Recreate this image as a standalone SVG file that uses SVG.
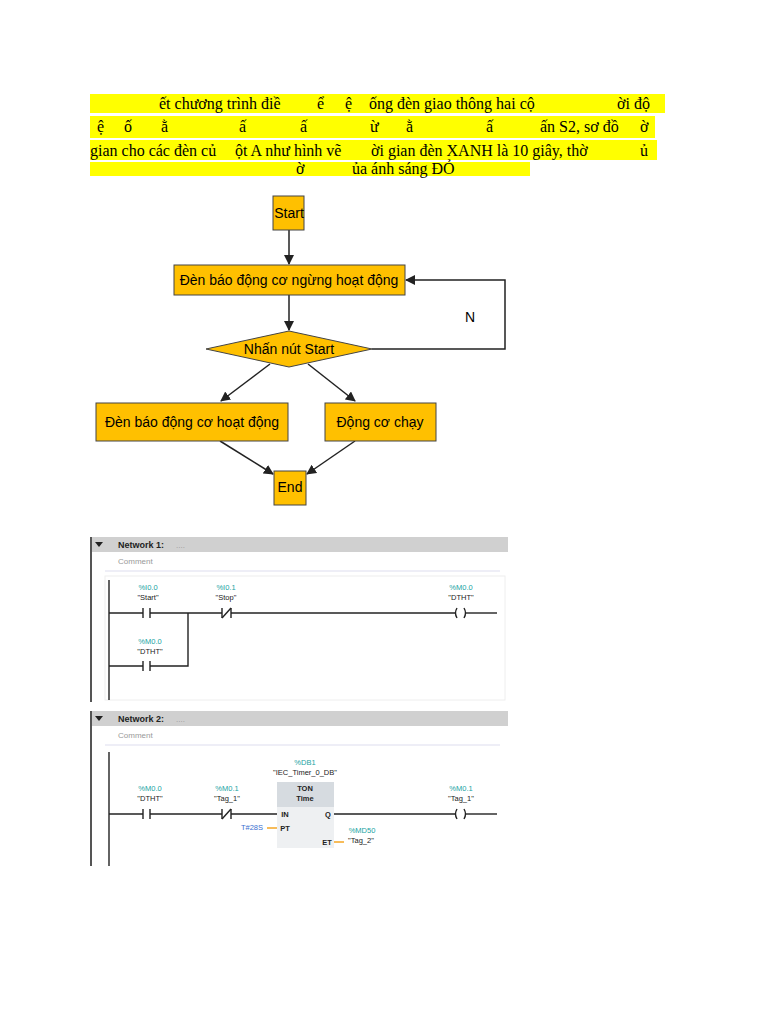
<svg xmlns="http://www.w3.org/2000/svg" width="768" height="1024" viewBox="0 0 768 1024">
<style>
.t{font-family:"Liberation Serif",serif;font-size:16px;fill:#000}
.f{font-family:"Liberation Sans",Arial,sans-serif;font-size:14px;fill:#000;text-anchor:middle}
.box{fill:#FFC000;stroke:#444;stroke-width:1}
.c{stroke:#222;stroke-width:1.5;fill:none}
.l{stroke:#222;stroke-width:1.4;fill:none}
.s{font-family:"Liberation Sans",Arial,sans-serif;font-size:7.5px;text-anchor:middle}
.tl{fill:#1aa3a3}
.bk{fill:#222}
.h{font-family:"Liberation Sans",Arial,sans-serif;font-size:9px;font-weight:bold;fill:#222}
.cm{font-family:"Liberation Sans",Arial,sans-serif;font-size:8px;fill:#999}
</style>
<defs><marker id="a" markerWidth="10" markerHeight="10" refX="9" refY="5" orient="auto" markerUnits="userSpaceOnUse"><path d="M0,0 L10,5 L0,10 z" fill="#222"/></marker></defs>
<rect width="768" height="1024" fill="#fff"/>
<g id="header">
<rect x="90" y="94" width="575" height="19" fill="#ffff00"/>
<rect x="90" y="116" width="565" height="22" fill="#ffff00"/>
<rect x="90" y="140" width="567" height="20" fill="#ffff00"/>
<rect x="90" y="162" width="440" height="14" fill="#ffff00"/>
<text class="t" x="159" y="109">ết chương trình điề</text>
<text class="t" x="317" y="109">ể</text><text class="t" x="345" y="109">ệ</text>
<text class="t" x="369" y="109">ống đèn giao thông hai cộ</text>
<text class="t" x="617" y="109">ời độ</text>
<text class="t" x="97" y="132">ệ</text><text class="t" x="124" y="132">ố</text><text class="t" x="161" y="132">ằ</text>
<text class="t" x="239" y="132">ấ</text><text class="t" x="300" y="132">ấ</text><text class="t" x="370" y="132">ừ</text>
<text class="t" x="406" y="132">ằ</text><text class="t" x="486" y="132">ấ</text>
<text class="t" x="540" y="132">ấn S2, sơ đồ</text><text class="t" x="640" y="132">ờ</text>
<text class="t" x="90" y="156">gian cho các đèn củ</text>
<text class="t" x="235" y="156">ột A như hình vẽ</text>
<text class="t" x="371" y="156">ời gian đèn XANH là 10 giây, thờ</text>
<text class="t" x="640" y="156">ủ</text>
<text class="t" x="296" y="174">ờ</text>
<text class="t" x="352" y="174">ủa ánh sáng ĐỎ</text>
</g>
<g id="connectors">
<line class="c" x1="289" y1="230" x2="289" y2="264" marker-end="url(#a)"/>
<line class="c" x1="289" y1="295" x2="289" y2="330" marker-end="url(#a)"/>
<polyline class="c" points="372,349 505,349 505,280 406,280" marker-end="url(#a)"/>
<line class="c" x1="270" y1="364" x2="221" y2="401" marker-end="url(#a)"/>
<line class="c" x1="308" y1="364" x2="355" y2="401" marker-end="url(#a)"/>
<line class="c" x1="220" y1="441" x2="273" y2="474" marker-end="url(#a)"/>
<line class="c" x1="355" y1="441" x2="307" y2="474" marker-end="url(#a)"/>
<text class="f" x="470" y="322">N</text>
</g>
<g id="start"><rect class="box" x="273" y="196" width="31" height="34"/><text class="f" x="289" y="218">Start</text></g>
<g id="stop-state"><rect class="box" x="174" y="265" width="231" height="30"/><text class="f" x="289" y="285">Đèn báo động cơ ngừng hoạt động</text></g>
<g id="decision"><polygon class="box" points="206,349 289,331 372,349 289,367"/><text class="f" x="289" y="354">Nhấn nút Start</text></g>
<g id="run-light"><rect class="box" x="96" y="403" width="192" height="38"/><text class="f" x="192" y="427">Đèn báo động cơ hoạt động</text></g>
<g id="motor"><rect class="box" x="325" y="403" width="111" height="38"/><text class="f" x="380" y="427">Động cơ chạy</text></g>
<g id="end"><rect class="box" x="274" y="471" width="32" height="34"/><text class="f" x="290" y="492">End</text></g>
<g id="network1">
<rect x="90" y="537" width="418" height="15" fill="#d0d0d0"/>
<rect x="90" y="537" width="2" height="165" fill="#555"/>
<polygon points="95,542 103,542 99,547" fill="#222"/>
<text class="h" x="118" y="548">Network 1:</text><text class="cm" x="176" y="548">....</text>
<text class="cm" x="118" y="564">Comment</text>
<line x1="105" y1="571" x2="500" y2="571" stroke="#dde" stroke-width="1"/>
<rect x="105" y="576" width="400" height="124" fill="none" stroke="#eee"/>
<line class="l" x1="109" y1="580" x2="109" y2="700"/>
<line class="l" x1="109" y1="613" x2="143" y2="613"/><line class="l" x1="143" y1="608" x2="143" y2="618"/><line class="l" x1="150" y1="608" x2="150" y2="618"/>
<line class="l" x1="150" y1="613" x2="222" y2="613"/><line class="l" x1="222" y1="608" x2="222" y2="618"/><line class="l" x1="231" y1="608" x2="231" y2="618"/><line class="l" x1="222" y1="618" x2="231" y2="608"/>
<line class="l" x1="231" y1="613" x2="455" y2="613"/><path class="l" d="M457,608 Q454,613 457,618 M464,608 Q467,613 464,618"/><line class="l" x1="466" y1="613" x2="497" y2="613"/>
<line class="l" x1="109" y1="666" x2="143" y2="666"/><line class="l" x1="143" y1="661" x2="143" y2="671"/><line class="l" x1="150" y1="661" x2="150" y2="671"/>
<polyline class="l" points="150,666 188,666 188,613"/>
<text class="s tl" x="148" y="590">%I0.0</text><text class="s bk" x="148" y="600">"Start"</text>
<text class="s tl" x="226" y="590">%I0.1</text><text class="s bk" x="226" y="600">"Stop"</text>
<text class="s tl" x="461" y="590">%M0.0</text><text class="s bk" x="461" y="600">"DTHT"</text>
<text class="s tl" x="150" y="644">%M0.0</text><text class="s bk" x="150" y="654">"DTHT"</text>
</g>
<g id="network2">
<rect x="90" y="711" width="418" height="15" fill="#d0d0d0"/>
<rect x="90" y="711" width="2" height="155" fill="#555"/>
<polygon points="95,716 103,716 99,721" fill="#222"/>
<text class="h" x="118" y="722">Network 2:</text><text class="cm" x="176" y="722">....</text>
<text class="cm" x="118" y="738">Comment</text>
<line x1="105" y1="745" x2="500" y2="745" stroke="#dde" stroke-width="1"/>
<line class="l" x1="109" y1="752" x2="109" y2="866"/>
<line class="l" x1="109" y1="814" x2="143" y2="814"/><line class="l" x1="143" y1="809" x2="143" y2="819"/><line class="l" x1="150" y1="809" x2="150" y2="819"/>
<line class="l" x1="150" y1="814" x2="222" y2="814"/><line class="l" x1="222" y1="809" x2="222" y2="819"/><line class="l" x1="231" y1="809" x2="231" y2="819"/><line class="l" x1="222" y1="819" x2="231" y2="809"/>
<line class="l" x1="231" y1="814" x2="277" y2="814"/>
<rect x="277" y="782" width="57" height="66" fill="#eef0f2"/><rect x="277" y="782" width="57" height="25" fill="#d6dbe0"/>
<text class="s bk" x="305" y="791" font-weight="bold">TON</text><text class="s bk" x="305" y="801" font-weight="bold">Time</text>
<text class="s bk" x="285" y="817" font-weight="bold">IN</text><text class="s bk" x="328" y="817" font-weight="bold">Q</text>
<text class="s bk" x="285" y="831" font-weight="bold">PT</text><text class="s bk" x="327" y="845" font-weight="bold">ET</text>
<line class="l" x1="334" y1="814" x2="455" y2="814"/><path class="l" d="M457,809 Q454,814 457,819 M464,809 Q467,814 464,819"/><line class="l" x1="466" y1="814" x2="497" y2="814"/>
<line x1="267" y1="828" x2="277" y2="828" stroke="#f5a623" stroke-width="1.5"/>
<line x1="334" y1="842" x2="344" y2="842" stroke="#f5a623" stroke-width="1.5"/>
<text class="s" x="252" y="830" fill="#3a6fd0">T#28S</text>
<text class="s tl" x="362" y="833">%MD50</text><text class="s bk" x="361" y="843">"Tag_2"</text>
<text class="s tl" x="305" y="765">%DB1</text><text class="s bk" x="305" y="775">"IEC_Timer_0_DB"</text>
<text class="s tl" x="150" y="791">%M0.0</text><text class="s bk" x="150" y="801">"DTHT"</text>
<text class="s tl" x="227" y="791">%M0.1</text><text class="s bk" x="227" y="801">"Tag_1"</text>
<text class="s tl" x="461" y="791">%M0.1</text><text class="s bk" x="461" y="801">"Tag_1"</text>
</g>
</svg>
